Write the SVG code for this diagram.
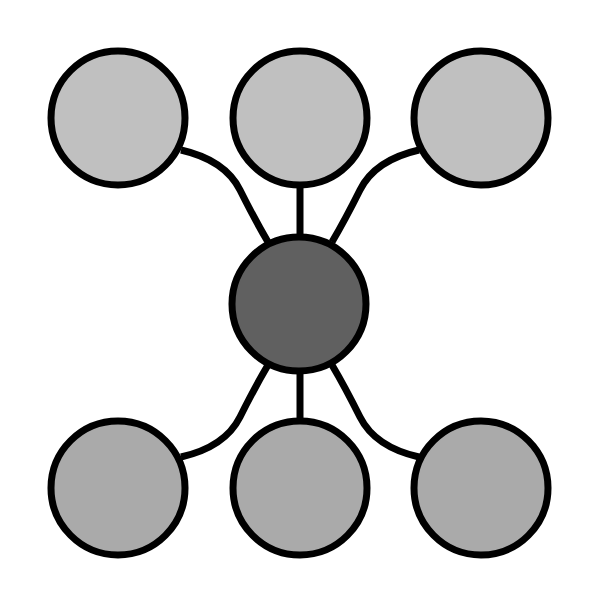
<svg xmlns="http://www.w3.org/2000/svg" width="600" height="600" viewBox="0 0 600 600">
<style>
.n{stroke:#000;stroke-width:7}
.top{fill:#c0c0c0}
.bot{fill:#aaaaaa}
.hub{fill:#606060}
.e{fill:none;stroke:#000;stroke-width:7}
</style>
<rect width="600" height="600" fill="#fff"/>
<g id="connectors">
<path class="e" d="M181,150 Q225,160 240,190 T268,242"/>
<path class="e" d="M419,150 Q375,160 360,190 T332,242"/>
<path class="e" d="M300,184 V238"/>
<path class="e" d="M181,457 Q225,447 240,417 T268,365"/>
<path class="e" d="M419,457 Q375,447 360,417 T332,365"/>
<path class="e" d="M300,370 V422"/>
</g>
<g id="n1"><circle class="n top" cx="118" cy="118" r="67"/></g>
<g id="n2"><circle class="n top" cx="300" cy="118" r="67"/></g>
<g id="n3"><circle class="n top" cx="481" cy="118" r="67"/></g>
<g id="hub"><circle class="n hub" cx="299" cy="304" r="67"/></g>
<g id="n4"><circle class="n bot" cx="118" cy="488" r="67"/></g>
<g id="n5"><circle class="n bot" cx="300" cy="488" r="67"/></g>
<g id="n6"><circle class="n bot" cx="481" cy="488" r="67"/></g>
</svg>
